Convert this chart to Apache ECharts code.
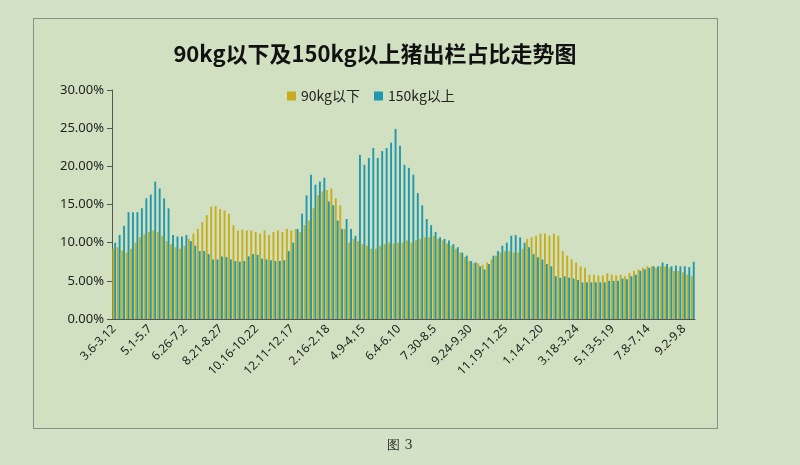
<!DOCTYPE html>
<html><head><meta charset="utf-8">
<script src="https://cdn.jsdelivr.net/npm/echarts@6/dist/echarts.min.js"></script>
<style>
html,body{margin:0;padding:0;background:#d3e2c6;width:800px;height:465px;overflow:hidden;}
#box{position:absolute;left:33px;top:18px;width:683px;height:409px;border:1px solid #8a8f86;background:#d0e0c0;}
#chart{position:absolute;left:0;top:0;width:800px;height:465px;}
#cap{position:absolute;left:0;width:800px;top:436px;text-align:center;font-family:"DejaVu Serif",serif;font-size:13px;color:#333;}
</style></head><body>
<div id="box"></div>
<div id="chart"></div>
<div id="cap">图 3</div>
<script>
const categories = ["3.6-3.12","3.13-3.19","3.20-3.26","3.27-4.2","4.3-4.9","4.10-4.16","4.17-4.23","4.24-4.30","5.1-5.7","5.8-5.14","5.15-5.21","5.22-5.28","5.29-6.4","6.5-6.11","6.12-6.18","6.19-6.25","6.26-7.2","7.3-7.9","7.10-7.16","7.17-7.23","7.24-7.30","7.31-8.6","8.7-8.13","8.14-8.20","8.21-8.27","8.28-9.3","9.4-9.10","9.11-9.17","9.18-9.24","9.25-10.1","10.2-10.8","10.9-10.15","10.16-10.22","10.23-10.29","10.30-11.5","11.6-11.12","11.13-11.19","11.20-11.26","11.27-12.3","12.4-12.10","12.11-12.17","12.18-12.24","12.25-12.31","1.1-1.7","1.8-1.14","1.15-1.21","1.22-1.28","1.29-2.4","2.16-2.18","2.19-2.25","2.26-3.4","3.5-3.11","3.12-3.18","3.19-3.25","3.26-4.1","4.2-4.8","4.9-4.15","4.16-4.22","4.23-4.29","4.30-5.6","5.7-5.13","5.14-5.20","5.21-5.27","5.28-6.3","6.4-6.10","6.11-6.17","6.18-6.24","6.25-7.1","7.2-7.8","7.9-7.15","7.16-7.22","7.23-7.29","7.30-8.5","8.6-8.12","8.13-8.19","8.20-8.26","8.27-9.2","9.3-9.9","9.10-9.16","9.17-9.23","9.24-9.30","10.1-10.7","10.8-10.14","10.15-10.21","10.22-10.28","10.29-11.4","11.5-11.11","11.12-11.18","11.19-11.25","11.26-12.2","12.3-12.9","12.10-12.16","12.17-12.23","12.24-12.30","12.31-1.6","1.7-1.13","1.14-1.20","1.21-1.27","1.28-2.3","2.11-2.17","2.18-2.24","2.25-3.3","3.4-3.10","3.11-3.17","3.18-3.24","3.25-3.31","4.1-4.7","4.8-4.14","4.15-4.21","4.22-4.28","4.29-5.5","5.6-5.12","5.13-5.19","5.20-5.26","5.27-6.2","6.3-6.9","6.10-6.16","6.17-6.23","6.24-6.30","7.1-7.7","7.8-7.14","7.15-7.21","7.22-7.28","7.29-8.4","8.5-8.11","8.12-8.18","8.19-8.25","8.26-9.1","9.2-9.8","9.9-9.15","9.16-9.22"];
const below90 = [9.2,9.4,9.0,8.7,9.2,10.0,10.7,11.1,11.4,11.6,
11.4,10.9,10.2,9.8,9.4,9.2,9.6,10.5,11.2,11.8,
12.7,13.6,14.7,14.8,14.4,14.2,13.8,12.3,11.6,11.7,
11.6,11.6,11.4,11.2,11.6,11.0,11.4,11.6,11.4,11.8,
11.6,11.8,11.4,12.3,12.9,14.5,16.2,16.7,16.9,17.1,
15.8,14.9,11.8,10.0,10.5,10.2,9.8,9.6,9.2,9.2,
9.6,9.8,10.0,9.9,10.0,
10.0,10.3,10.0,10.3,10.5,10.7,10.7,10.9,10.5,10.3,
9.9,9.6,9.2,8.7,8.1,7.6,7.3,7.3,7.1,7.4,
7.8,8.3,8.7,8.9,8.9,8.7,8.7,9.2,10.5,10.7,
10.9,11.2,11.2,10.9,11.2,10.9,8.9,8.3,7.8,7.4,
6.9,6.7,5.8,5.8,5.7,5.7,6.0,5.8,5.7,5.8,
5.6,6.0,6.3,6.5,6.7,6.9,6.9,6.7,6.9,6.9,
6.7,6.3,6.3,6.1,5.8,5.6];
const above150 = [10.0,11.0,12.2,14.0,14.0,14.0,14.5,15.8,16.3,18.0,
17.1,15.8,14.5,11.0,10.8,10.8,11.0,10.2,9.6,8.9,
8.9,8.5,7.8,7.8,8.2,8.1,7.8,7.6,7.5,7.6,
8.2,8.5,8.4,7.9,7.8,7.7,7.6,7.6,7.7,8.9,
10.0,11.8,13.8,16.2,18.9,17.6,18.0,18.5,15.4,14.9,
12.9,11.8,13.1,11.8,10.9,21.5,20.2,21.1,22.4,21.1,
22.0,22.4,23.1,24.9,22.7,
20.2,19.8,18.9,16.5,14.9,13.1,12.3,11.4,10.7,10.5,
10.3,9.8,9.4,8.7,8.3,7.6,7.4,6.9,6.5,7.2,
8.3,8.9,9.6,10.0,10.9,11.0,10.7,10.0,9.4,8.5,
8.1,7.8,7.2,6.9,5.6,5.4,5.6,5.4,5.3,5.1,
4.8,4.8,4.8,4.8,4.8,4.8,5.0,5.0,5.0,5.3,
5.2,5.6,5.8,6.3,6.5,6.7,6.9,6.9,7.4,7.2,
6.9,7.0,6.9,6.9,6.8,7.5];
const yTicks = [0,5,10,15,20,25,30];

const chart = echarts.init(document.getElementById('chart'));
chart.setOption({
  animation:false,
  title:{text:'90kg以下及150kg以上猪出栏占比走势图',left:370,textAlign:'center',top:38,
    textStyle:{fontSize:22,fontWeight:'bold',color:'#111',fontFamily:'Noto Sans CJK SC'}},
  legend:{top:84,left:282,itemWidth:9,itemHeight:9,itemGap:14,icon:'rect',
    textStyle:{fontSize:14,color:'#222',fontFamily:'Noto Sans CJK SC'}},
  grid:{left:112,right:105,top:90,bottom:146},
  xAxis:{type:'category',data:categories,
    axisLine:{lineStyle:{color:'#555'}},
    axisTick:{interval:3,lineStyle:{color:'#555'}},
    axisLabel:{interval:7,rotate:45,fontSize:12,color:'#222',fontFamily:'Noto Sans',margin:8}},
  yAxis:{type:'value',min:yTicks[0],max:yTicks[yTicks.length-1],interval:5,
    axisLine:{show:true,lineStyle:{color:'#555'}},axisTick:{show:true,lineStyle:{color:'#555'}},
    splitLine:{show:false},
    axisLabel:{formatter:v=>v.toFixed(2)+'%',fontSize:13,color:'#222',fontFamily:'Noto Sans'}},
  series:[
    {name:'90kg以下',type:'bar',data:below90,barGap:'0%',barCategoryGap:'15%',itemStyle:{color:'#c8ad1c'}},
    {name:'150kg以上',type:'bar',data:above150,itemStyle:{color:'#2098ad'}}
  ]
});
</script></body></html>
